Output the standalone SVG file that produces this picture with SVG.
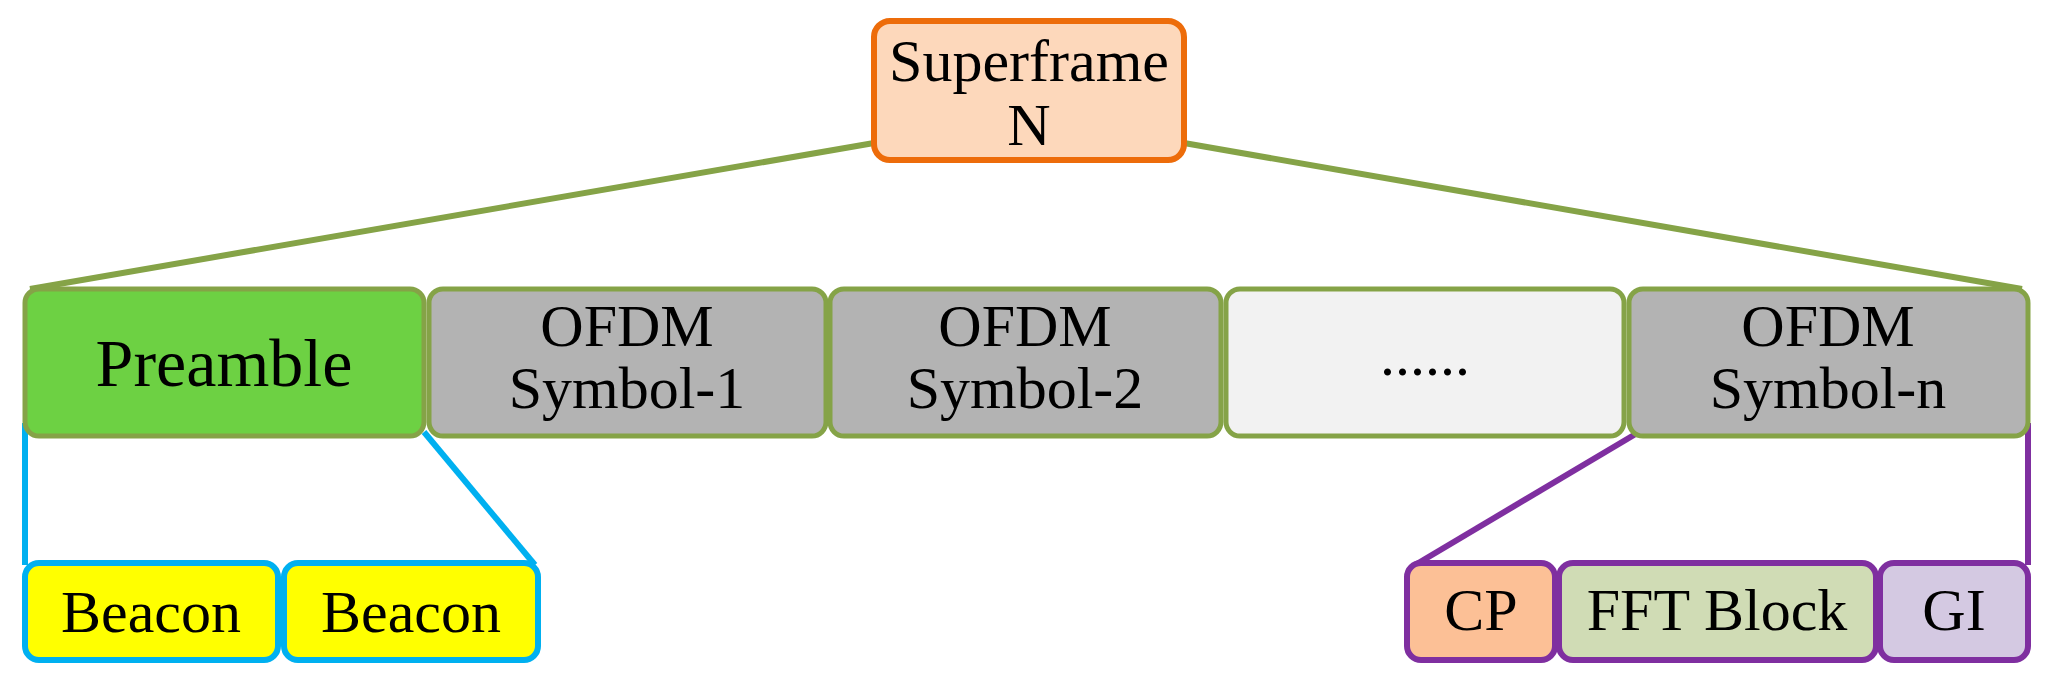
<svg xmlns="http://www.w3.org/2000/svg" width="2054" height="685" viewBox="0 0 2054 685">
<style>
text{font-family:"Liberation Serif","Times New Roman",serif;font-size:60px;fill:#000;text-anchor:middle}
.g{stroke:#85a347;stroke-width:6}
.row{stroke:#85a347;stroke-width:5}
.b{stroke:#00b0f0;stroke-width:6;fill:#ffff00}
.p{stroke:#7f2fa0;stroke-width:6}
</style>
<g id="connectors" fill="none">
<line class="g" x1="874" y1="143" x2="30" y2="289"/>
<line class="g" x1="1184" y1="143" x2="2022" y2="289"/>
<line stroke="#00b0f0" stroke-width="6" x1="25" y1="423" x2="25" y2="565"/>
<line stroke="#00b0f0" stroke-width="6" x1="424" y1="432" x2="535" y2="565"/>
<line class="p" x1="1639" y1="432" x2="1415" y2="565"/>
<line class="p" x1="2028" y1="423" x2="2028" y2="565"/>
</g>
<g id="superframe"><rect x="874" y="21" width="310" height="139" rx="16" fill="#fdd8bb" stroke="#ed6c0a" stroke-width="6"/><text x="1029" y="81">Superframe</text><text x="1029" y="145">N</text></g>
<g id="preamble"><rect class="row" x="25" y="289" width="399" height="147" rx="14" fill="#6dd143"/><text x="224" y="386" style="font-size:68px">Preamble</text></g>
<g id="sym1"><rect class="row" x="429" y="289" width="397" height="147" rx="14" fill="#b3b3b3"/><text x="627" y="346">OFDM</text><text x="627" y="408">Symbol-1</text></g>
<g id="sym2"><rect class="row" x="830" y="289" width="391" height="147" rx="14" fill="#b3b3b3"/><text x="1025" y="346">OFDM</text><text x="1025" y="408">Symbol-2</text></g>
<g id="dots"><rect class="row" x="1226" y="289" width="398" height="147" rx="14" fill="#f2f2f2"/><text x="1425" y="375">......</text></g>
<g id="symn"><rect class="row" x="1629" y="289" width="399" height="147" rx="14" fill="#b3b3b3"/><text x="1828" y="346">OFDM</text><text x="1828" y="408">Symbol-n</text></g>
<g id="beacon1"><rect class="b" x="25" y="563" width="253" height="97" rx="14"/><text x="151" y="632">Beacon</text></g>
<g id="beacon2"><rect class="b" x="284" y="563" width="254" height="97" rx="14"/><text x="411" y="632">Beacon</text></g>
<g id="cp"><rect class="p" x="1407" y="563" width="148" height="97" rx="14" fill="#fcc096"/><text x="1481" y="630">CP</text></g>
<g id="fft"><rect class="p" x="1559" y="563" width="317" height="97" rx="14" fill="#d0dcb5"/><text x="1717" y="630">FFT Block</text></g>
<g id="gi"><rect class="p" x="1880" y="563" width="148" height="97" rx="14" fill="#d4c9e2"/><text x="1954" y="630">GI</text></g>
</svg>
